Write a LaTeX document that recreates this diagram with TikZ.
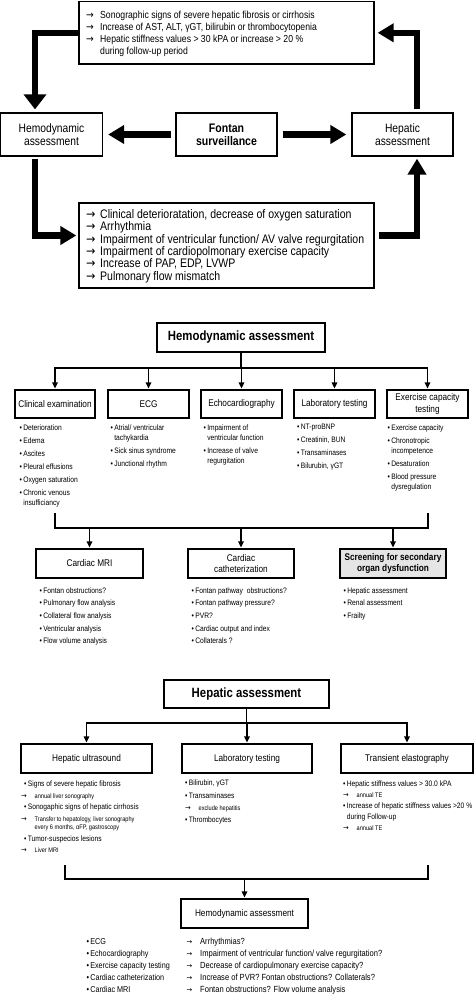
\documentclass[tikz,border=0pt]{standalone}
\usepackage{fontspec}
\setmainfont{Liberation Sans}[FakeStretch=0.85]
\newfontfamily\arrowfont{DejaVu Sans}[FakeStretch=0.9]
\usetikzlibrary{arrows.meta,calc}

\newcommand{\bul}{\makebox[3.6pt][l]{•}}
\newcommand{\toarr}{\makebox[14pt][l]{\arrowfont →}}
\newcommand{\smarr}{\makebox[13.5pt][l]{\fontsize{7.5}{8}\arrowfont →}}
\newcommand{\sm}{\fontsize{6.6}{8}\selectfont}

\tikzset{
  bigarr/.style={line width=6.5pt, -{Triangle[width=18pt,length=16pt]}},
  topbox/.style={draw, line width=1.3pt, inner sep=0pt, align=center, font=\fontsize{12.1}{13}\selectfont},
  toptxt/.style={anchor=north west, inner sep=0pt, align=left},
  title/.style={draw, line width=1.2pt, inner sep=0pt, font=\bfseries\fontsize{13.4}{15}\selectfont},
  box/.style={draw, line width=1.1pt, inner sep=0pt, align=center, font=\fontsize{9.7}{11.5}\selectfont},
  list/.style={anchor=north west, inner sep=0pt, align=left, font=\fontsize{7.9}{10}\selectfont},
  link/.style={line width=1.1pt},
  thinarr/.style={line width=1.1pt, -{Triangle[width=5.5pt,length=6pt]}, shorten >=1pt},
}

\begin{document}
\begin{tikzpicture}[x=1pt,y=-1pt]
\useasboundingbox (0,0) rectangle (474,994);

\node[topbox, minimum width=295pt, minimum height=62.5pt] (signs) at (226.5,32.8) {};
\node[toptxt, font=\fontsize{10.2}{12.3}\selectfont] (signsT) at (86,10.5)
  {\toarr Sonographic signs of severe hepatic fibrosis or cirrhosis\\
   \toarr Increase of AST, ALT, γGT, bilirubin or thrombocytopenia\\
   \toarr Hepatic stiffness values > 30 kPA or increase > 20 \%\\
   \hspace*{14pt}during follow-up period};
\node[topbox, minimum width=102pt, minimum height=43pt] (hemoT) at (51.5,134.5) {Hemodynamic\\assessment};
\node[topbox, minimum width=101pt, minimum height=43pt, font=\bfseries\fontsize{12.4}{13}\selectfont] (fontan) at (226.5,134.5) {Fontan\\surveillance};
\node[topbox, minimum width=101pt, minimum height=43pt] (hepT) at (402.5,134.5) {Hepatic\\assessment};
\node[topbox, minimum width=295pt, minimum height=85pt] (deter) at (226.5,245.5) {};
\node[toptxt, font=\fontsize{12.4}{12.3}\selectfont] (deterT) at (86,209.5)
  {\toarr Clinical deterioratation, decrease of oxygen saturation\\
   \toarr Arrhythmia\\
   \toarr Impairment of ventricular function/ AV valve regurgitation\\
   \toarr Impairment of cardiopolmonary exercise capacity\\
   \toarr Increase of PAP, EDP, LVWP\\
   \toarr Pulmonary flow mismatch};

\coordinate (lcol) at (35,0);
\coordinate (rcol) at (417,0);
\coordinate (lrow) at (0,235.5);
\draw[bigarr, -{Triangle[width=22pt,length=15pt]}, shorten >=3pt] (signs.west) -| (lcol |- hemoT.north);
\draw[bigarr, shorten <=3pt, shorten >=3pt] (rcol |- hepT.north) |- (signs.east);
\draw[bigarr, shorten <=4pt, shorten >=5pt] (fontan.west) -- (hemoT.east);
\draw[bigarr, shorten <=5pt, shorten >=5pt] (fontan.east) -- (hepT.west);
\draw[bigarr, shorten <=2pt, shorten >=2pt] (lcol |- hemoT.south) |- (deter.west |- lrow);
\draw[bigarr, shorten <=4pt, shorten >=2pt] (deter.east |- lrow) -| (rcol |- hepT.south);

% hemodynamic assessment
\node[title, minimum width=168pt, minimum height=29pt] (hemo) at (241,337.5) {Hemodynamic assessment};
\node[box, minimum width=80pt, minimum height=28pt] (clin) at (55,404) {Clinical examination};
\node[box, minimum width=81pt, minimum height=28pt] (ecg) at (148.5,404) {ECG};
\node[box, minimum width=81pt, minimum height=28pt] (echo) at (241.5,404) {Echocardiography};
\node[box, minimum width=81pt, minimum height=28pt] (lab) at (334.5,404) {Laboratory testing};
\node[box, minimum width=81pt, minimum height=28pt] (exer) at (427.5,404) {Exercise capacity\\testing};
\coordinate (hsplit) at (241,368);
\draw[link] (hemo) -- (hsplit);
\foreach \n in {clin,ecg,echo,lab,exer}
  \draw[thinarr] (hsplit) -| (\n.north);

\node[list] (clinL) at (19.5,424.3) {\bul Deterioration\\[3pt] \bul Edema\\[3pt] \bul Ascites\\[3pt]
  \bul Pleural effusions\\[3pt] \bul Oxygen saturation\\[3pt] \bul Chronic venous\\ \hspace*{3.6pt}insufficiancy};
\node[list] (ecgL) at (110.5,424.3) {\bul Atrial/ ventricular\\ \hspace*{3.6pt}tachykardia\\[3pt]
  \bul Sick sinus syndrome\\[3pt] \bul Junctional rhythm};
\node[list] (echoL) at (203.5,424.3) {\bul Impairment of\\ \hspace*{3.6pt}ventricular function\\[3pt]
  \bul Increase of valve\\ \hspace*{3.6pt}regurgitation};
\node[list] (labL) at (297,424.3) {\bul NT-proBNP\\[3pt] \bul Creatinin, BUN\\[3pt] \bul Transaminases\\[3pt] \bul Bilurubin, γGT};
\node[list] (exerL) at (387.5,424.3) {\bul Exercise capacity\\[3pt] \bul Chronotropic\\ \hspace*{3.6pt}incompetence\\[3pt]
  \bul Desaturation\\[3pt] \bul Blood pressure\\ \hspace*{3.6pt}dysregulation};

\node[box, minimum width=107pt, minimum height=29pt] (mri) at (89.5,563.5) {Cardiac MRI};
\node[box, minimum width=106pt, minimum height=29pt] (cath) at (241,563.5) {Cardiac\\catheterization};
\node[box, minimum width=106pt, minimum height=29pt, fill=black!10, font=\bfseries\fontsize{9.7}{11.5}\selectfont] (screen) at (393,563.5) {Screening for secondary\\organ dysfunction};
\coordinate (mL) at (55,513);
\coordinate (mR) at (428,513);
\coordinate (mbar) at (0,528);
\draw[link] (mL) |- (mbar -| mR) -- (mR);
\foreach \n in {mri,cath,screen}
  \draw[thinarr] (\n.north |- mbar) -- (\n.north);

\node[list] (mriL) at (39.5,587.3) {\bul Fontan obstructions?\\[2.6pt] \bul Pulmonary flow analysis\\[2.6pt]
  \bul Collateral flow analysis\\[2.6pt] \bul Ventricular analysis\\[2.6pt] \bul Flow volume analysis};
\node[list] (cathL) at (191.5,587.3) {\bul Fontan pathway~ obstructions?\\[2.6pt] \bul Fontan pathway pressure?\\[2.6pt]
  \bul PVR?\\[2.6pt] \bul Cardiac output and index\\[2.6pt] \bul Collaterals ?};
\node[list] (screenL) at (343.5,587.3) {\bul Hepatic assessment\\[2.6pt] \bul Renal assessment\\[2.6pt] \bul Frailty};

% hepatic assessment
\node[title, minimum width=165pt, minimum height=28pt] (hep) at (246.5,694) {Hepatic assessment};
\node[box, minimum width=131pt, minimum height=29pt] (hus) at (86.5,758.5) {Hepatic ultrasound};
\node[box, minimum width=130pt, minimum height=29pt] (hlab) at (247,758.5) {Laboratory testing};
\node[box, minimum width=132pt, minimum height=29pt] (te) at (407,758.5) {Transient elastography};
\coordinate (psplit) at (246.5,723);
\draw[link] (hep) -- (psplit);
\foreach \n in {hus,hlab,te}
  \draw[thinarr] (psplit) -| (\n.north);

\node[list, font=\fontsize{7.9}{8}\selectfont] (husL) at (21,780.3)
  {\hspace*{3pt}\bul Signs of severe hepatic fibrosis\\[4pt]
   {\sm\smarr annual liver sonography}\\[3pt]
   \hspace*{3pt}\bul Sonogaphic signs of hepatic cirrhosis\\[4pt]
   {\sm\smarr Transfer to hepatology, liver sonography}\\
   {\sm\hspace*{13.5pt}every 6 months, αFP, gastroscopy}\\[4pt]
   \hspace*{3pt}\bul Tumor-suspecios lesions\\[3pt]
   {\sm\smarr Liver MRI}};
\node[list, font=\fontsize{7.9}{8}\selectfont] (hlabL) at (185,779.5)
  {\bul Bilirubin, γGT\\[5.5pt] \bul Transaminases\\[3.5pt] {\sm\smarr exclude hepatitis}\\[4.5pt] \bul Thrombocytes};
\node[list, font=\fontsize{7.9}{8}\selectfont] (teL) at (343,780.3)
  {\bul Hepatic stiffness values > 30.0 kPA\\[3pt] {\sm\smarr annual TE}\\[3pt]
   \bul Increase of hepatic stiffness values >20 \%\\[3pt] \hspace*{3.6pt}during Follow-up\\[3pt]
   {\sm\smarr annual TE}};

\node[box, minimum width=127pt, minimum height=29pt] (hemo2) at (244.5,913.5) {Hemodynamic assessment};
\coordinate (qL) at (65,865);
\coordinate (qR) at (428,865);
\coordinate (qbar) at (0,879);
\draw[link] (qL) |- (qbar -| qR) -- (qR);
\draw[thinarr] (hemo2.north |- qbar) -- (hemo2.north);

\node[list, font=\fontsize{8.5}{12}\selectfont] (testL) at (86.5,938)
  {\bul ECG\\ \bul Echocardiography\\ \bul Exercise capacity testing\\ \bul Cardiac catheterization\\ \bul Cardiac MRI};
\node[list, font=\fontsize{8.9}{12}\selectfont] (askL) at (186.5,938)
  {\smarr Arrhythmias?\\ \smarr Impairment of ventricular function/ valve regurgitation?\\
   \smarr Decrease of cardiopulmonary exercise capacity?\\ \smarr Increase of PVR? Fontan obstructions? Collaterals?\\
   \smarr Fontan obstructions? Flow volume analysis};
\end{tikzpicture}
\end{document}
